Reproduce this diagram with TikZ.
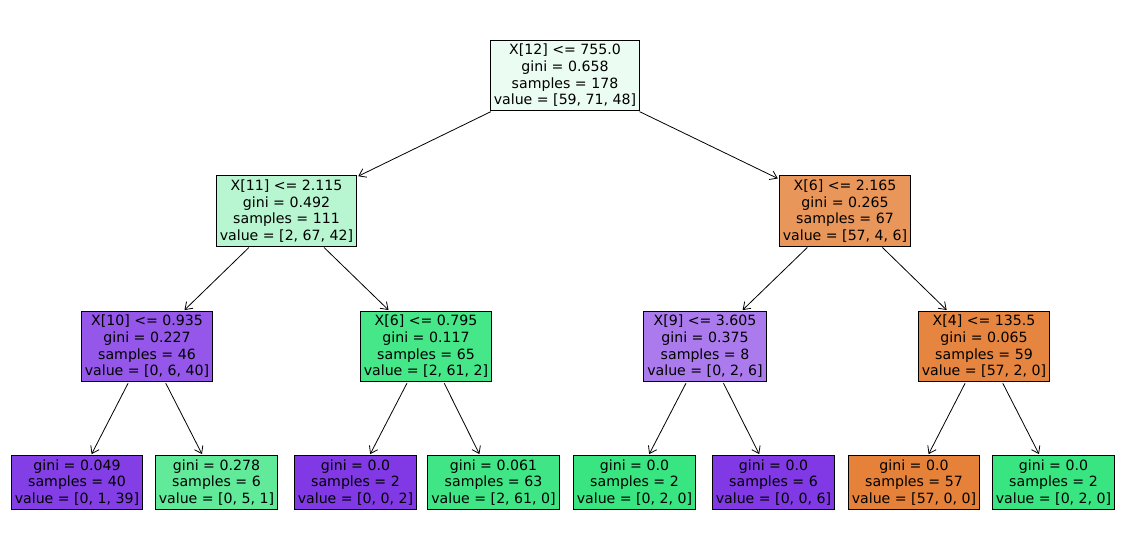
\documentclass[tikz,border=0pt]{standalone}
\usepackage{fontspec}
\setmainfont{DejaVu Sans}
\usetikzlibrary{arrows.meta}
\definecolor{raiz}{RGB}{235,252,242}
\definecolor{verdeA}{RGB}{183,246,209}
\definecolor{naranjaA}{RGB}{233,150,90}
\definecolor{moradoA}{RGB}{148,87,233}
\definecolor{verdeB}{RGB}{70,231,137}
\definecolor{moradoB}{RGB}{171,123,238}
\definecolor{naranjaB}{RGB}{230,133,64}
\definecolor{moradoC}{RGB}{132,62,230}
\definecolor{verdeC}{RGB}{97,234,154}
\definecolor{verdeD}{RGB}{64,230,133}
\definecolor{morado}{RGB}{129,57,229}
\definecolor{verde}{RGB}{57,229,129}
\definecolor{naranja}{RGB}{229,129,57}
\tikzset{
  nodo/.style={rectangle, draw=black, line width=0.75pt, align=center,
               font=\fontsize{10.6}{12.5}\selectfont, inner xsep=2.5pt, inner ysep=2.8pt},
  flecha/.style={-{Straight Barb[length=5pt,width=7pt]}, line width=0.6pt, shorten >=1pt, shorten <=1pt}
}
\begin{document}
\begin{tikzpicture}[x=0.75pt,y=-0.75pt]
\useasboundingbox (0,0) rectangle (1130,558);

\node[nodo,fill=raiz] (r) at (565,75.5) {X[12] <= 755.0\\ gini = 0.658\\ samples = 178\\ value = [59, 71, 48]};

\node[nodo,fill=verdeA] (a) at (286.5,211) {X[11] <= 2.115\\ gini = 0.492\\ samples = 111\\ value = [2, 67, 42]};
\node[nodo,fill=naranjaA] (b) at (845,211) {X[6] <= 2.165\\ gini = 0.265\\ samples = 67\\ value = [57, 4, 6]};

\node[nodo,fill=moradoA] (aa) at (147,346.5) {X[10] <= 0.935\\ gini = 0.227\\ samples = 46\\ value = [0, 6, 40]};
\node[nodo,fill=verdeB] (ab) at (426,346.5) {X[6] <= 0.795\\ gini = 0.117\\ samples = 65\\ value = [2, 61, 2]};
\node[nodo,fill=moradoB] (ba) at (705,346.5) {X[9] <= 3.605\\ gini = 0.375\\ samples = 8\\ value = [0, 2, 6]};
\node[nodo,fill=naranjaB] (bb) at (984,346.5) {X[4] <= 135.5\\ gini = 0.065\\ samples = 59\\ value = [57, 2, 0]};

\node[nodo,fill=moradoC] (h1) at (77,482.5) {gini = 0.049\\ samples = 40\\ value = [0, 1, 39]};
\node[nodo,fill=verdeC] (h2) at (216.5,482.5) {gini = 0.278\\ samples = 6\\ value = [0, 5, 1]};
\node[nodo,fill=morado] (h3) at (355.5,482.5) {gini = 0.0\\ samples = 2\\ value = [0, 0, 2]};
\node[nodo,fill=verdeD] (h4) at (493.5,482.5) {gini = 0.061\\ samples = 63\\ value = [2, 61, 0]};
\node[nodo,fill=verde] (h5) at (634.5,482.5) {gini = 0.0\\ samples = 2\\ value = [0, 2, 0]};
\node[nodo,fill=morado] (h6) at (773.5,482.5) {gini = 0.0\\ samples = 6\\ value = [0, 0, 6]};
\node[nodo,fill=naranja] (h7) at (914,482.5) {gini = 0.0\\ samples = 57\\ value = [57, 0, 0]};
\node[nodo,fill=verde] (h8) at (1053.5,482.5) {gini = 0.0\\ samples = 2\\ value = [0, 2, 0]};

\draw[flecha] (r) -- (a);
\draw[flecha] (r) -- (b);
\draw[flecha] (a) -- (aa);
\draw[flecha] (a) -- (ab);
\draw[flecha] (b) -- (ba);
\draw[flecha] (b) -- (bb);
\draw[flecha] (aa) -- (h1);
\draw[flecha] (aa) -- (h2);
\draw[flecha] (ab) -- (h3);
\draw[flecha] (ab) -- (h4);
\draw[flecha] (ba) -- (h5);
\draw[flecha] (ba) -- (h6);
\draw[flecha] (bb) -- (h7);
\draw[flecha] (bb) -- (h8);
\end{tikzpicture}
\end{document}
